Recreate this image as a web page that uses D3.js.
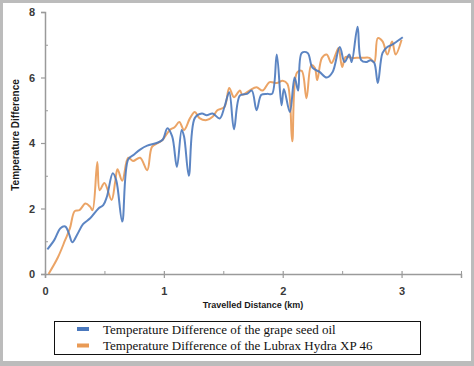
<!DOCTYPE html>
<html lang="en">
  <head>
    <meta charset="UTF-8" />
    <title>Temperature Difference</title>
    <script src="https://d3js.org/d3.v7.min.js"></script>
    <style>
      body { margin: 0; background: #fff; }
      svg { display: block; }
    </style>
  </head>
  <body>
    <svg width="474" height="366"></svg>
    <script>
      // [travelled distance (km), temperature difference]
      let grapeSeed = [
        [0.02, 0.75], [0.08, 1.05], [0.13, 1.4], [0.17, 1.45], [0.2, 1.25],
        [0.23, 0.97], [0.27, 1.2], [0.32, 1.52], [0.38, 1.7], [0.45, 2.0],
        [0.49, 2.1], [0.52, 2.35], [0.57, 3.08], [0.6, 2.85], [0.65, 1.6],
        [0.7, 3.5], [0.75, 3.65], [0.8, 3.8], [0.86, 3.92], [0.94, 4.0],
        [0.99, 4.1], [1.03, 4.45], [1.07, 4.2], [1.11, 3.27], [1.15, 4.4],
        [1.17, 4.2], [1.21, 3.0], [1.26, 4.76], [1.32, 4.9], [1.36, 4.85],
        [1.41, 4.9], [1.47, 4.75], [1.51, 5.1], [1.55, 5.55], [1.59, 4.42],
        [1.64, 5.45], [1.7, 5.5], [1.74, 5.6], [1.78, 5.0], [1.82, 5.47],
        [1.87, 5.5], [1.91, 5.5], [1.95, 6.7], [1.99, 5.15], [2.01, 5.65],
        [2.06, 4.95], [2.1, 6.0], [2.13, 5.6], [2.16, 6.75], [2.21, 6.75],
        [2.25, 6.3], [2.31, 6.17], [2.37, 6.0], [2.42, 6.17], [2.48, 6.93],
        [2.52, 6.47], [2.56, 6.7], [2.58, 6.47], [2.63, 7.55], [2.66, 6.53],
        [2.7, 6.47], [2.74, 6.53], [2.77, 6.45], [2.8, 5.83], [2.84, 6.75],
        [2.88, 6.93], [2.92, 7.0], [2.96, 7.1], [3.01, 7.23]
      ];

      let lubrax = [
        [0.03, 0.0], [0.11, 0.52], [0.17, 1.04], [0.21, 1.4], [0.25, 1.92],
        [0.29, 1.95], [0.34, 2.15], [0.38, 2.05], [0.4, 1.95], [0.44, 3.42],
        [0.46, 2.56], [0.5, 2.78], [0.56, 2.26], [0.59, 2.8], [0.61, 3.2],
        [0.65, 2.85], [0.7, 3.55], [0.74, 3.45], [0.8, 3.55], [0.86, 3.17],
        [0.9, 3.88], [0.95, 4.0], [0.99, 4.1], [1.05, 4.4], [1.09, 4.48],
        [1.13, 4.64], [1.17, 4.4], [1.22, 4.76], [1.26, 4.95], [1.3, 4.76],
        [1.36, 4.7], [1.41, 4.8], [1.45, 5.0], [1.51, 5.1], [1.55, 5.68],
        [1.59, 5.4], [1.64, 5.6], [1.66, 5.47], [1.72, 5.6], [1.78, 5.7],
        [1.83, 5.6], [1.89, 5.86], [1.95, 5.83], [2.0, 5.9], [2.04, 5.8],
        [2.08, 4.05], [2.12, 6.15], [2.16, 6.2], [2.2, 5.37], [2.24, 6.38],
        [2.27, 6.3], [2.29, 5.92], [2.33, 6.6], [2.37, 6.7], [2.41, 6.44],
        [2.45, 6.75], [2.47, 6.9], [2.5, 6.32], [2.53, 6.63], [2.58, 6.6],
        [2.62, 6.6], [2.67, 6.6], [2.73, 6.6], [2.77, 6.47], [2.8, 7.2],
        [2.84, 7.1], [2.88, 6.7], [2.92, 7.1], [2.95, 6.7], [3.0, 7.15]
      ];

      let xTicks = [0, 1, 2, 3];
      let xMinor = [0.5, 1.5, 2.5, 3.5];
      let yTicks = [0, 2, 4, 6, 8];
      let yMinor = [1, 3, 5, 7];

      let legendLabels = [
        "Temperature Difference of the grape seed oil",
        "Temperature Difference of the Lubrax Hydra XP 46"
      ];
      let colors = ["#4a78bd", "#e99a55"];

      let svg = d3.select("svg");

      // gray frame round the picture
      svg.append("rect").attr("width", 474).attr("height", 366).attr("fill", "#bcbcbc");
      svg.append("rect").attr("x", 3).attr("y", 3).attr("width", 468).attr("height", 358).attr("fill", "#fff");

      let x = d3.scaleLinear().domain([0, 3.5]).range([45, 461]);
      let y = d3.scaleLinear().domain([0, 8]).range([274, 12]);

      let axisColor = "#9a9a9a";

      // y axis
      let yAxis = svg.append("g").attr("transform", "translate(45,0)")
        .call(d3.axisLeft(y).tickValues(yTicks).tickSize(4).tickPadding(6).tickFormat(d3.format("d")));
      yAxis.select(".domain").attr("stroke", axisColor).attr("stroke-width", 1.5);
      yAxis.selectAll(".tick line").attr("stroke", axisColor).attr("stroke-width", 1.2);
      yAxis.selectAll(".tick text")
        .attr("fill", "#3a3a3a")
        .style("font", "bold 11px 'Liberation Sans', Arial, sans-serif");
      svg.append("g").attr("transform", "translate(45,0)")
        .call(d3.axisRight(y).tickValues(yMinor).tickSize(3).tickFormat(""))
        .call((g) => g.select(".domain").remove())
        .selectAll(".tick line").attr("stroke", axisColor);

      // x axis
      let xAxis = svg.append("g").attr("transform", "translate(0,274)")
        .call(d3.axisBottom(x).tickValues(xTicks).tickSize(4).tickPadding(9).tickFormat(d3.format("d")));
      xAxis.select(".domain").attr("stroke", axisColor).attr("stroke-width", 1.5);
      xAxis.selectAll(".tick line").attr("stroke", axisColor).attr("y1", -3).attr("stroke-width", 1.2);
      xAxis.selectAll(".tick text")
        .attr("fill", "#3a3a3a")
        .style("font", "bold 11px 'Liberation Sans', Arial, sans-serif");
      svg.append("g").attr("transform", "translate(0,274)")
        .call(d3.axisTop(x).tickValues(xMinor).tickSize(3).tickFormat(""))
        .call((g) => g.select(".domain").remove())
        .selectAll(".tick line").attr("stroke", axisColor);

      // axis titles
      svg.append("text")
        .attr("transform", "translate(19,135) rotate(-90)")
        .attr("text-anchor", "middle")
        .attr("fill", "#1a1a1a")
        .style("font", "bold 10px 'Liberation Sans', Arial, sans-serif")
        .text("Temperature Difference");
      svg.append("text")
        .attr("x", 253).attr("y", 308)
        .attr("text-anchor", "middle")
        .attr("fill", "#1a1a1a")
        .style("font", "bold 9px 'Liberation Sans', Arial, sans-serif")
        .text("Travelled Distance (km)");

      // lines
      let line = d3.line()
        .x((d) => x(d[0]))
        .y((d) => y(d[1]))
        .curve(d3.curveCatmullRom.alpha(0.5));

      svg.append("g")
        .selectAll("path")
        .data([lubrax, grapeSeed])
        .enter()
        .append("path")
        .attr("d", line)
        .attr("fill", "none")
        .attr("stroke", (d, i) => (i === 0 ? colors[1] : colors[0]))
        .attr("stroke-width", 2)
        .attr("stroke-opacity", 0.9);

      // legend
      let legend = svg.append("g");
      legend.append("rect")
        .attr("x", 54.5).attr("y", 321.5).attr("width", 366).attr("height", 33)
        .attr("fill", "#fff").attr("stroke", "#111").attr("stroke-width", 1);
      legendLabels.forEach((label, i) => {
        let cy = 329 + i * 16.5;
        legend.append("rect")
          .attr("x", 77).attr("y", cy - 2).attr("width", 12).attr("height", 4)
          .attr("fill", colors[i]);
        legend.append("text")
          .attr("x", 103).attr("y", cy + 4.5)
          .attr("fill", "#111")
          .style("font", "13px 'Liberation Serif', 'Times New Roman', serif")
          .text(label);
      });
    </script>
  </body>
</html>
